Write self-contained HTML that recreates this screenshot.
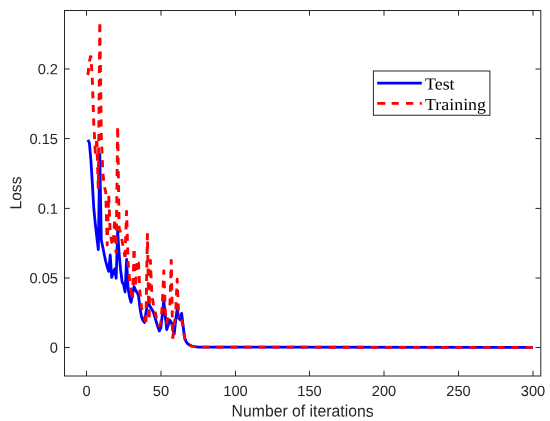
<!DOCTYPE html><html><head><meta charset="utf-8"><title>Loss</title><style>html,body{margin:0;padding:0;background:#fff}svg{display:block}text{font-family:"Liberation Sans",Arial,sans-serif;fill:#262626}.ser{font-family:"Liberation Serif","Times New Roman",serif;fill:#000}</style></head><body>
<svg width="550" height="421" viewBox="0 0 550 421">
<rect width="550" height="421" fill="#fff"/>
<polyline points="87.89,139.80 89.38,143.00 90.87,160.00 92.35,183.50 93.84,209.00 95.33,224.00 96.82,237.00 98.31,249.50 99.80,154.30 101.28,240.00 102.77,247.00 104.26,254.50 105.75,261.50 107.24,267.00 108.73,271.40 110.21,255.00 111.70,277.30 113.19,272.00 114.68,269.00 116.17,278.20 117.66,231.10 119.14,254.00 120.63,270.00 122.12,282.00 123.61,284.50 125.10,292.00 126.59,259.50 128.07,288.00 129.56,297.00 131.05,302.30 132.54,294.00 134.03,286.50 135.51,290.00 137.00,292.50 138.49,295.50 139.98,308.00 141.47,316.50 142.96,320.50 144.44,322.50 145.93,313.00 147.42,304.00 148.91,303.80 150.40,307.00 151.89,309.50 153.38,312.00 154.86,317.00 156.35,322.00 157.84,327.00 159.33,331.00 160.82,328.00 162.31,315.00 163.79,300.50 165.28,316.00 166.77,329.60 168.26,325.00 169.75,320.00 171.24,322.00 172.72,328.00 174.21,334.00 175.70,320.00 177.19,309.00 178.68,318.00 180.17,320.00 181.65,313.30 183.14,326.00 184.63,338.00 186.12,341.70 187.61,343.60 189.09,344.70 190.58,345.60 192.07,346.10 193.56,346.40 195.05,346.70 196.54,346.90 198.03,347.10 532.90,347.45" fill="none" stroke="#0000ff" stroke-width="2.8" stroke-linejoin="round"/>
<g transform="scale(1.033,1)" fill="none" stroke="#ff0000" stroke-width="2.8" stroke-linejoin="round">
<polyline points="85.08,75.00 86.52,61.50 87.96,55.60" stroke-dasharray="7.02 6.58" stroke-dashoffset="0.00"/>
<polyline points="87.96,55.60 89.40,80.00 90.84,125.00 92.28,152.50 93.73,141.00" stroke-dasharray="7.02 6.58" stroke-dashoffset="4.99"/>
<polyline points="93.73,141.00 95.17,189.00" stroke-dasharray="7.02 6.58" stroke-dashoffset="0.80"/>
<polyline points="95.17,189.00 96.61,21.40 98.05,135.00" stroke-dasharray="7.02 6.58" stroke-dashoffset="6.39"/>
<polyline points="98.05,135.00 99.49,172.00 100.93,186.00 102.37,192.00 103.81,245.00 105.25,195.00 106.69,232.00 108.13,242.00 109.57,246.00 111.01,218.50 112.46,253.00" stroke-dasharray="7.02 6.58" stroke-dashoffset="2.01"/>
<polyline points="112.46,253.00 113.90,126.10 115.34,229.00" stroke-dasharray="7.02 6.58" stroke-dashoffset="4.69"/>
<polyline points="115.34,229.00 116.78,232.50 118.22,241.00 119.66,250.00 121.10,257.00" stroke-dasharray="7.02 6.58" stroke-dashoffset="3.31"/>
<polyline points="121.10,257.00 122.54,211.30 123.98,262.00" stroke-dasharray="7.02 6.58" stroke-dashoffset="13.30"/>
<polyline points="123.98,262.00 125.42,280.00 126.86,291.00 128.30,298.00" stroke-dasharray="7.02 6.58" stroke-dashoffset="1.40"/>
<polyline points="128.30,298.00 129.75,251.00" stroke-dasharray="7.02 6.58" stroke-dashoffset="0.58"/>
<polyline points="129.75,251.00 131.19,288.00" stroke-dasharray="7.02 6.58" stroke-dashoffset="0.59"/>
<polyline points="131.19,288.00 132.63,263.00" stroke-dasharray="7.02 6.58" stroke-dashoffset="9.17"/>
<polyline points="132.63,263.00 134.07,263.00 135.51,293.00" stroke-dasharray="7.02 6.58" stroke-dashoffset="12.74"/>
<polyline points="135.51,293.00 136.95,307.00 138.39,313.00 139.83,318.00 141.27,322.00" stroke-dasharray="7.02 6.58" stroke-dashoffset="3.42"/>
<polyline points="141.27,322.00 142.71,233.40" stroke-dasharray="7.02 6.58" stroke-dashoffset="13.49"/>
<polyline points="142.71,233.40 144.15,322.00" stroke-dasharray="7.02 6.58" stroke-dashoffset="5.60"/>
<polyline points="144.15,322.00 145.59,260.30 147.03,296.00" stroke-dasharray="7.02 6.58" stroke-dashoffset="9.00"/>
<polyline points="147.03,296.00 148.48,304.00 149.92,310.00 151.36,318.00 152.80,322.00 154.24,326.00 155.68,323.00 157.12,305.00" stroke-dasharray="7.02 6.58" stroke-dashoffset="11.25"/>
<polyline points="157.12,305.00 158.56,270.80 160.00,312.00" stroke-dasharray="7.02 6.58" stroke-dashoffset="9.79"/>
<polyline points="160.00,312.00 161.44,323.00 162.88,314.00 164.32,311.00" stroke-dasharray="7.02 6.58" stroke-dashoffset="3.64"/>
<polyline points="164.32,311.00 165.76,260.30 167.21,338.50" stroke-dasharray="7.02 6.58" stroke-dashoffset="8.00"/>
<polyline points="167.21,338.50 168.65,325.00 170.09,312.00" stroke-dasharray="7.02 6.58" stroke-dashoffset="0.93"/>
<polyline points="170.09,312.00 171.53,279.20 172.97,316.00" stroke-dasharray="7.02 6.58" stroke-dashoffset="10.79"/>
<polyline points="172.97,316.00 174.41,321.00 175.85,319.00 177.29,328.00 178.73,338.00 180.17,341.70 181.61,343.60 183.05,344.70 184.49,345.60 185.94,346.10 187.38,346.40 188.82,346.70 190.26,346.90 191.70,347.10" stroke-dasharray="7.02 6.58" stroke-dashoffset="5.51"/>
<polyline points="191.70,347.10 515.88,347.45" stroke-dasharray="7.02 6.58" stroke-dashoffset="9.46"/>
</g>
<rect x="64.5" y="10.5" width="476.3" height="365.5" fill="none" stroke="#262626" stroke-width="1"/>
<path d="M86.5 376v-5.2M86.5 10.5v5.2M161 376v-5.2M161 10.5v5.2M235.5 376v-5.2M235.5 10.5v5.2M309.5 376v-5.2M309.5 10.5v5.2M384 376v-5.2M384 10.5v5.2M458.5 376v-5.2M458.5 10.5v5.2M533 376v-5.2M533 10.5v5.2M64.5 347.5h5.3M540.8 347.5h-5.3M64.5 278h5.3M540.8 278h-5.3M64.5 208.4h5.3M540.8 208.4h-5.3M64.5 138.6h5.3M540.8 138.6h-5.3M64.5 69h5.3M540.8 69h-5.3" stroke="#262626" stroke-width="1" fill="none"/>
<text transform="translate(86.50,396.10) rotate(0.03) scale(1,1)" font-size="14.67" text-anchor="middle">0</text>
<text transform="translate(161.00,396.10) rotate(0.03) scale(1,1)" font-size="14.67" text-anchor="middle">50</text>
<text transform="translate(235.50,396.10) rotate(0.03) scale(1,1)" font-size="14.67" text-anchor="middle">100</text>
<text transform="translate(309.50,396.10) rotate(0.03) scale(1,1)" font-size="14.67" text-anchor="middle">150</text>
<text transform="translate(384.00,396.10) rotate(0.03) scale(1,1)" font-size="14.67" text-anchor="middle">200</text>
<text transform="translate(458.50,396.10) rotate(0.03) scale(1,1)" font-size="14.67" text-anchor="middle">250</text>
<text transform="translate(533.00,396.10) rotate(0.03) scale(1,1)" font-size="14.67" text-anchor="middle">300</text>
<text transform="translate(58.00,352.75) rotate(0.03) scale(1,1)" font-size="14.67" text-anchor="end">0</text>
<text transform="translate(58.00,283.25) rotate(0.03) scale(1,1)" font-size="14.67" text-anchor="end">0.05</text>
<text transform="translate(58.00,213.85) rotate(0.03) scale(1,1)" font-size="14.67" text-anchor="end">0.1</text>
<text transform="translate(58.00,144.00) rotate(0.03) scale(1,1)" font-size="14.67" text-anchor="end">0.15</text>
<text transform="translate(58.00,74.25) rotate(0.03) scale(1,1)" font-size="14.67" text-anchor="end">0.2</text>
<text transform="translate(302.60,416.60) rotate(0.03) scale(0.95,1)" font-size="16.6" text-anchor="middle">Number of iterations</text>
<text transform="translate(21.2,193.0) rotate(-89.95) scale(0.975,1)" font-size="16" text-anchor="middle">Loss</text>
<rect x="373.4" y="71.0" width="116.5" height="44.25" fill="#fff" stroke="#262626" stroke-width="1"/>
<line x1="377.2" y1="83.2" x2="421.8" y2="83.2" stroke="#0000ff" stroke-width="2.8"/>
<line x1="377.2" y1="103.3" x2="421.8" y2="103.3" stroke="#ff0000" stroke-width="2.8" stroke-dasharray="8.2 6.2 7.2 7.2 7.3 6.5 3"/>
<text class="ser" transform="translate(425.00,89.45) rotate(0.03) scale(1.06,1)" font-size="16.9" text-anchor="start">Test</text>
<text class="ser" transform="translate(425.00,110.10) rotate(0.03) scale(1.06,1)" font-size="16.9" text-anchor="start">Training</text>
</svg></body></html>
